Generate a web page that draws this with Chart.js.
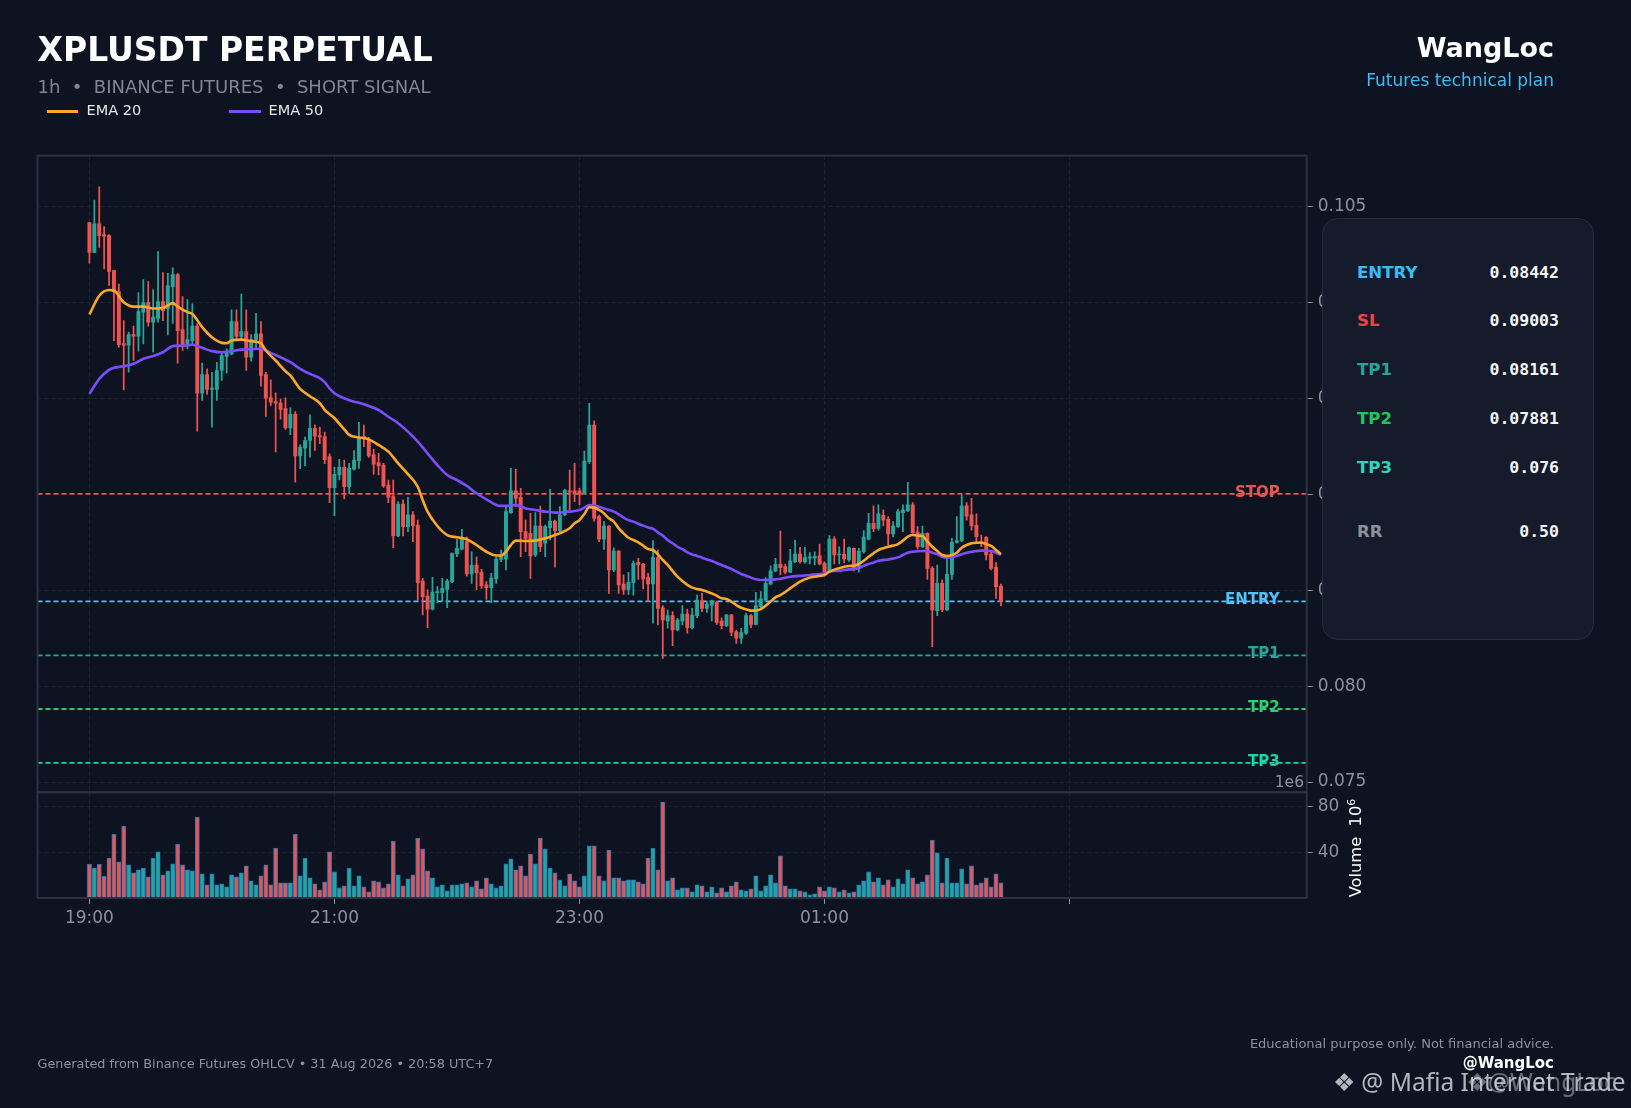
<!DOCTYPE html>
<html><head><meta charset="utf-8">
<script src="https://cdn.jsdelivr.net/npm/chart.js@4.4.1/dist/chart.umd.min.js"></script>
<style>
html,body{margin:0;padding:0;background:#0d1320;}
#wrap{position:relative;width:1631px;height:1108px;overflow:hidden;background:#0d1320;font-family:"DejaVu Sans",sans-serif;}
canvas{position:absolute;left:0;top:0;}
.t{position:absolute;white-space:pre;line-height:1;}
#panel{position:absolute;left:1322px;top:218px;width:272px;height:422px;background:#151b2a;border:1px solid #262d3b;border-radius:16px;box-sizing:border-box;}
.pl{position:absolute;left:34px;font-weight:bold;font-size:16.6px;line-height:1;white-space:pre;}
.pv{position:absolute;right:34px;font-family:"DejaVu Sans Mono",monospace;font-weight:bold;font-size:16.5px;line-height:1;color:#f3f4f6;white-space:pre;}
</style></head><body>
<div id="wrap">
<canvas id="price" width="1631" height="1108" style="width:1631px;height:1108px"></canvas>
<canvas id="vol" width="1631" height="1108" style="width:1631px;height:1108px"></canvas>

<div class="t" style="left:37.5px;top:33px;font-size:33px;font-weight:bold;color:#ffffff;">XPLUSDT PERPETUAL</div>
<div class="t" style="left:37.5px;top:77.5px;font-size:18px;color:#7f8794;">1h  •  BINANCE FUTURES  •  SHORT SIGNAL</div>
<div style="position:absolute;left:47px;top:109.5px;width:31px;height:3px;background:#ffa726;"></div>
<div class="t" style="left:86.5px;top:102.7px;font-size:14.5px;color:#e5e7eb;">EMA 20</div>
<div style="position:absolute;left:229px;top:109.5px;width:32px;height:3px;background:#7c4dff;"></div>
<div class="t" style="left:268.5px;top:102.7px;font-size:14.5px;color:#e5e7eb;">EMA 50</div>

<div class="t" style="right:77px;top:34px;font-size:27px;font-weight:bold;color:#ffffff;">WangLoc</div>
<div class="t" style="right:77px;top:71.5px;font-size:17px;color:#38bdf8;">Futures technical plan</div>

<div class="t" style="right:327px;top:774.5px;font-size:15.5px;color:#8b929e;">1e6</div>
<div class="t" style="left:1355px;top:848px;font-size:16.3px;color:#ffffff;transform:translate(-50%,-50%) rotate(-90deg);">Volume  10<sup style="font-size:11px;vertical-align:6px;">6</sup></div>

<div class="t" style="left:37.5px;top:1058px;font-size:12.8px;color:#8b929e;">Generated from Binance Futures OHLCV • 31 Aug 2026 • 20:58 UTC+7</div>
<div class="t" style="right:77px;top:1037px;font-size:13px;color:#8b929e;">Educational purpose only. Not financial advice.</div>
<div class="t" style="right:77px;top:1055.5px;font-size:15px;font-weight:bold;color:#ffffff;">@WangLoc</div>
<div class="t" style="left:1333px;top:1070.3px;font-family:'Noto Sans',sans-serif;font-size:24.5px;color:rgba(215,218,224,0.82);">❖ @ Mafia Internet Trade</div>
<div class="t" style="left:1466px;top:1070.3px;font-family:'Noto Sans',sans-serif;font-size:24.5px;color:rgba(215,218,224,0.45);">❖@WangLoc</div>

<div id="panel"></div>
</div>

<script>
// ---------------- DATA ----------------
const timeTickIdx = [0, 50, 100, 150, 200];
const timeLabels = ["19:00", "21:00", "23:00", "01:00", ""];
const priceTicks = [0.075, 0.080, 0.085, 0.090, 0.095, 0.100, 0.105];
const volumeTicks = [40, 80];

const opens = [0.10417,0.10262,0.10411,0.10354,0.10349,0.10167,0.10057,0.09786,0.09778,0.09833,
0.09825,0.09950,0.10000,0.09898,0.09918,0.10005,0.09967,0.10083,0.10146,0.09859,
0.09773,0.09802,0.09877,0.09528,0.09625,0.09547,0.09547,0.09646,0.09719,0.09733,
0.09901,0.09823,0.09849,0.09715,0.09807,0.09837,0.09625,0.09505,0.09484,0.09476,
0.09448,0.09346,0.09417,0.09200,0.09241,0.09281,0.09344,0.09307,0.09302,0.09197,
0.09035,0.09101,0.09141,0.09040,0.09132,0.09176,0.09301,0.09287,0.09206,0.09165,
0.09153,0.09049,0.08988,0.08783,0.08950,0.08832,0.08893,0.08840,0.08548,0.08470,
0.08402,0.08488,0.08488,0.08505,0.08545,0.08689,0.08715,0.08754,0.08585,0.08632,
0.08594,0.08528,0.08514,0.08559,0.08661,0.08663,0.08905,0.09018,0.08985,0.08806,
0.08797,0.08684,0.08835,0.08745,0.08827,0.08859,0.08811,0.08893,0.09018,0.09018,
0.09018,0.09005,0.09171,0.09362,0.08884,0.08767,0.08835,0.08606,0.08705,0.08533,
0.08505,0.08540,0.08646,0.08637,0.08566,0.08533,0.08670,0.08409,0.08340,0.08368,
0.08293,0.08340,0.08376,0.08305,0.08368,0.08446,0.08406,0.08423,0.08437,0.08340,
0.08316,0.08371,0.08284,0.08250,0.08276,0.08368,0.08322,0.08415,0.08449,0.08533,
0.08601,0.08635,0.08623,0.08595,0.08649,0.08689,0.08648,0.08667,0.08668,0.08679,
0.08641,0.08597,0.08767,0.08684,0.08689,0.08658,0.08719,0.08614,0.08701,0.08767,
0.08849,0.08823,0.08891,0.08870,0.08794,0.08832,0.08905,0.08915,0.08945,0.08804,
0.08727,0.08797,0.08614,0.08394,0.08536,0.08397,0.08583,0.08750,0.08759,0.08940,
0.08893,0.08839,0.08754,0.08776,0.08689,0.08620,0.08522];

const highs = [0.10417,0.10535,0.10604,0.10396,0.10354,0.10170,0.10097,0.09906,0.09846,0.09877,
0.10052,0.10120,0.10109,0.10068,0.10266,0.10156,0.10153,0.10181,0.10151,0.10031,
0.10016,0.09993,0.09889,0.09684,0.09655,0.09637,0.09689,0.09736,0.09759,0.09962,
0.09962,0.10045,0.09962,0.09833,0.09944,0.09901,0.09637,0.09597,0.09530,0.09498,
0.09504,0.09451,0.09432,0.09259,0.09299,0.09415,0.09363,0.09351,0.09325,0.09211,
0.09141,0.09183,0.09179,0.09162,0.09228,0.09376,0.09362,0.09297,0.09235,0.09214,
0.09162,0.09075,0.09075,0.08962,0.08971,0.08985,0.08910,0.08866,0.08562,0.08502,
0.08568,0.08519,0.08562,0.08557,0.08694,0.08766,0.08818,0.08779,0.08701,0.08675,
0.08609,0.08545,0.08588,0.08672,0.08710,0.08936,0.09136,0.09131,0.09032,0.08866,
0.08901,0.08905,0.08939,0.08840,0.09026,0.08866,0.08936,0.09027,0.09127,0.09162,
0.09032,0.09226,0.09475,0.09383,0.08892,0.08858,0.08837,0.08722,0.08707,0.08580,
0.08594,0.08653,0.08667,0.08641,0.08588,0.08759,0.08710,0.08420,0.08397,0.08389,
0.08354,0.08420,0.08402,0.08406,0.08475,0.08484,0.08444,0.08449,0.08444,0.08357,
0.08375,0.08375,0.08293,0.08302,0.08380,0.08375,0.08489,0.08493,0.08566,0.08628,
0.08667,0.08809,0.08637,0.08714,0.08762,0.08724,0.08724,0.08696,0.08700,0.08741,
0.08649,0.08785,0.08780,0.08727,0.08767,0.08727,0.08722,0.08719,0.08811,0.08901,
0.08940,0.08945,0.08919,0.08884,0.08858,0.08922,0.08945,0.09063,0.08957,0.08832,
0.08835,0.08800,0.08623,0.08632,0.08554,0.08684,0.08771,0.08884,0.08997,0.08957,
0.08979,0.08898,0.08788,0.08780,0.08707,0.08644,0.08533];

const lows = [0.10205,0.10260,0.10288,0.10175,0.10089,0.09802,0.09767,0.09545,0.09637,0.09698,
0.09747,0.09785,0.09877,0.09741,0.09898,0.09906,0.09832,0.09892,0.09684,0.09750,
0.09759,0.09776,0.09330,0.09490,0.09521,0.09351,0.09490,0.09594,0.09632,0.09729,
0.09802,0.09811,0.09646,0.09694,0.09759,0.09564,0.09406,0.09464,0.09221,0.09392,
0.09339,0.09311,0.09064,0.09134,0.09148,0.09194,0.09229,0.09264,0.09160,0.08957,
0.08889,0.09075,0.08976,0.09005,0.09127,0.09136,0.09249,0.09193,0.09106,0.09101,
0.09036,0.08957,0.08722,0.08779,0.08783,0.08806,0.08754,0.08449,0.08371,0.08305,
0.08397,0.08435,0.08441,0.08409,0.08540,0.08675,0.08710,0.08574,0.08536,0.08502,
0.08510,0.08453,0.08435,0.08536,0.08649,0.08606,0.08901,0.08936,0.08675,0.08701,
0.08562,0.08675,0.08701,0.08675,0.08762,0.08620,0.08806,0.08889,0.08919,0.08962,
0.08945,0.09002,0.09162,0.08861,0.08754,0.08713,0.08484,0.08597,0.08484,0.08479,
0.08479,0.08475,0.08557,0.08507,0.08441,0.08328,0.08319,0.08145,0.08302,0.08211,
0.08288,0.08319,0.08276,0.08298,0.08357,0.08389,0.08385,0.08340,0.08322,0.08298,
0.08310,0.08263,0.08223,0.08223,0.08270,0.08305,0.08319,0.08406,0.08444,0.08528,
0.08597,0.08580,0.08585,0.08592,0.08644,0.08641,0.08641,0.08637,0.08632,0.08632,
0.08592,0.08594,0.08637,0.08637,0.08644,0.08651,0.08601,0.08595,0.08693,0.08762,
0.08806,0.08814,0.08835,0.08736,0.08780,0.08828,0.08806,0.08910,0.08797,0.08715,
0.08722,0.08557,0.08206,0.08368,0.08388,0.08394,0.08557,0.08745,0.08754,0.08866,
0.08814,0.08754,0.08727,0.08658,0.08606,0.08458,0.08420];

const closes = [0.10262,0.10411,0.10349,0.10346,0.10163,0.10057,0.09781,0.09778,0.09833,0.09825,
0.09953,0.10000,0.09898,0.09924,0.10005,0.09958,0.10089,0.10146,0.09854,0.09773,
0.09807,0.09877,0.09528,0.09625,0.09547,0.09554,0.09646,0.09724,0.09736,0.09901,
0.09823,0.09849,0.09715,0.09807,0.09837,0.09620,0.09502,0.09481,0.09476,0.09443,
0.09346,0.09417,0.09200,0.09247,0.09281,0.09344,0.09304,0.09299,0.09181,0.09035,
0.09105,0.09141,0.09040,0.09136,0.09179,0.09292,0.09292,0.09200,0.09158,0.09148,
0.09044,0.08985,0.08783,0.08950,0.08832,0.08893,0.08837,0.08540,0.08467,0.08402,
0.08491,0.08493,0.08510,0.08548,0.08693,0.08719,0.08766,0.08585,0.08630,0.08592,
0.08524,0.08514,0.08564,0.08663,0.08684,0.08910,0.09018,0.08979,0.08806,0.08771,
0.08679,0.08835,0.08727,0.08832,0.08861,0.08811,0.08893,0.09023,0.09011,0.09004,
0.09000,0.09174,0.09362,0.08875,0.08767,0.08835,0.08606,0.08705,0.08528,0.08502,
0.08541,0.08641,0.08632,0.08559,0.08533,0.08670,0.08406,0.08345,0.08368,0.08293,
0.08345,0.08376,0.08305,0.08371,0.08449,0.08406,0.08427,0.08441,0.08333,0.08316,
0.08371,0.08281,0.08250,0.08279,0.08368,0.08322,0.08420,0.08455,0.08536,0.08601,
0.08635,0.08618,0.08595,0.08653,0.08689,0.08649,0.08670,0.08674,0.08677,0.08637,
0.08597,0.08767,0.08684,0.08689,0.08663,0.08722,0.08614,0.08705,0.08778,0.08849,
0.08821,0.08898,0.08866,0.08794,0.08835,0.08910,0.08919,0.08945,0.08800,0.08727,
0.08797,0.08614,0.08397,0.08536,0.08397,0.08583,0.08750,0.08759,0.08940,0.08887,
0.08835,0.08780,0.08745,0.08684,0.08614,0.08519,0.08441];

// volume in millions (axis offset 1e6)
const volumes = [29.4,26.2,29.4,19.0,34.9,55.8,31.5,62.8,28.9,21.9,
24.5,26.2,18.4,34.9,40.2,20.2,23.6,29.7,47.1,28.9,
24.5,23.6,70.6,21.0,11.5,21.0,11.5,12.3,9.7,20.2,
18.4,21.9,28.0,14.9,11.5,19.3,28.9,11.5,43.6,13.2,
13.2,13.2,55.8,19.3,34.9,17.5,12.3,7.1,14.1,40.2,
22.8,8.8,10.6,26.2,10.6,19.3,9.7,5.4,14.9,14.1,
8.8,12.3,49.7,20.2,10.6,16.7,20.2,52.3,42.8,23.6,
17.5,9.7,11.5,6.2,11.5,11.5,12.3,13.2,9.7,14.9,
8.0,17.5,12.3,8.8,10.6,29.7,34.1,24.5,28.0,19.3,
38.4,29.7,52.3,42.8,26.2,21.9,15.8,10.6,21.0,14.9,
9.7,19.3,45.4,45.4,19.3,14.9,41.9,17.5,17.5,14.9,
15.8,15.8,14.1,12.3,34.9,43.6,24.5,83.7,14.9,17.5,
7.1,8.8,8.8,5.4,11.5,10.6,5.4,9.7,4.5,8.8,
5.4,10.6,14.1,7.1,6.2,8.0,19.3,6.2,10.6,20.2,
13.2,36.7,10.6,8.0,8.0,6.2,5.4,2.8,3.6,9.7,
6.2,9.7,8.8,5.4,7.1,4.5,5.4,11.5,14.9,22.8,
14.1,17.5,11.5,15.8,9.7,16.7,12.3,24.5,17.5,12.3,
14.1,20.2,50.6,39.3,13.2,34.9,13.2,13.2,25.4,12.3,
28.0,11.5,13.2,17.5,9.7,21.0,13.2];

const ema20Idx = [0,2,4,5,7,9,11,13,15,17,18,20,21,23,25,27,28,29,31,33,35,36,38,40,41,43,45,47,48,50,52,53,55,57,59,61,63,65,67,68,69,71,73,75,77,79,81,83,84,85,86,87,89,91,93,95,96,98,99,100,101,102,103,104,105,106,107,108,109,110,111,112,113,114,115,116,117,118,119,120,121,122,123,124,125,126,127,128,129,130,131,132,133,134,135,136,137,138,139,140,141,143,145,147,149,150,151,153,155,156,157,158,159,160,161,163,165,166,167,168,169,170,171,172,173,174,175,176,177,178,179,180,181,182,183,184,185,186];
const ema20Val = [0.09938,0.10036,0.10066,0.10063,0.10002,0.09979,0.09979,0.09969,0.09972,0.09997,0.09979,0.09950,0.09941,0.09872,0.09819,0.09790,0.09788,0.09802,0.09807,0.09799,0.09788,0.09750,0.09698,0.09642,0.09620,0.09550,0.09512,0.09476,0.09441,0.09397,0.09339,0.09310,0.09297,0.09287,0.09258,0.09223,0.09162,0.09106,0.09040,0.08971,0.08910,0.08835,0.08788,0.08776,0.08766,0.08736,0.08701,0.08681,0.08681,0.08701,0.08736,0.08759,0.08757,0.08759,0.08771,0.08788,0.08797,0.08823,0.08849,0.08866,0.08898,0.08933,0.08931,0.08919,0.08901,0.08875,0.08858,0.08823,0.08797,0.08774,0.08762,0.08750,0.08733,0.08715,0.08710,0.08687,0.08658,0.08632,0.08601,0.08571,0.08548,0.08528,0.08514,0.08507,0.08502,0.08493,0.08484,0.08472,0.08458,0.08455,0.08441,0.08423,0.08409,0.08401,0.08394,0.08395,0.08402,0.08420,0.08441,0.08463,0.08475,0.08510,0.08545,0.08566,0.08575,0.08580,0.08597,0.08615,0.08627,0.08628,0.08637,0.08654,0.08675,0.08693,0.08710,0.08727,0.08741,0.08759,0.08780,0.08788,0.08785,0.08783,0.08754,0.08727,0.08705,0.08684,0.08679,0.08684,0.08696,0.08722,0.08736,0.08745,0.08748,0.08748,0.08741,0.08731,0.08710,0.08688];

const ema50Idx = [0,2,4,5,7,9,11,13,15,17,19,21,23,25,27,29,31,33,35,37,39,41,43,45,47,48,49,50,52,54,55,57,59,61,63,65,67,69,71,73,75,77,79,81,83,84,86,87,89,91,93,95,96,97,98,99,100,101,102,103,104,105,106,107,108,109,110,111,112,113,114,115,116,117,118,119,120,121,122,123,124,125,126,127,128,129,130,131,132,133,134,135,136,137,138,139,140,141,143,145,147,149,150,151,153,155,157,158,159,160,161,163,165,166,167,168,170,171,172,173,174,175,176,177,178,179,180,182,183,184,185,186];
const ema50Val = [0.09524,0.09602,0.09649,0.09660,0.09668,0.09681,0.09707,0.09721,0.09741,0.09773,0.09776,0.09780,0.09764,0.09747,0.09741,0.09747,0.09755,0.09757,0.09759,0.09738,0.09715,0.09689,0.09655,0.09628,0.09606,0.09585,0.09553,0.09527,0.09501,0.09483,0.09478,0.09461,0.09440,0.09405,0.09371,0.09327,0.09275,0.09214,0.09153,0.09101,0.09075,0.09044,0.09006,0.08974,0.08945,0.08940,0.08941,0.08945,0.08927,0.08919,0.08910,0.08905,0.08905,0.08910,0.08910,0.08913,0.08919,0.08931,0.08945,0.08941,0.08936,0.08927,0.08919,0.08910,0.08896,0.08879,0.08866,0.08858,0.08847,0.08837,0.08828,0.08820,0.08802,0.08785,0.08762,0.08745,0.08727,0.08714,0.08698,0.08687,0.08679,0.08670,0.08661,0.08653,0.08642,0.08632,0.08621,0.08611,0.08597,0.08585,0.08576,0.08566,0.08557,0.08554,0.08554,0.08555,0.08557,0.08560,0.08571,0.08575,0.08580,0.08585,0.08588,0.08597,0.08602,0.08609,0.08615,0.08627,0.08637,0.08644,0.08654,0.08661,0.08672,0.08684,0.08696,0.08701,0.08705,0.08705,0.08696,0.08689,0.08675,0.08670,0.08672,0.08679,0.08688,0.08696,0.08701,0.08707,0.08707,0.08705,0.08696,0.08684];

const levelNames = ["STOP", "ENTRY", "TP1", "TP2", "TP3"];
const levelValues = [0.09003, 0.08442, 0.08161, 0.07881, 0.076];
const levelColors = ["#ef5350", "#4fc3f7", "#26a69a", "#2ecc71", "#1dd6a6"];

const panelLabels = ["ENTRY", "SL", "TP1", "TP2", "TP3"];
const panelValues = [0.08442, 0.09003, 0.08161, 0.07881, 0.076];
const panelColors = ["#38bdf8", "#ef4444", "#26a69a", "#22c55e", "#2dd4bf"];
const rrLabel = "RR";
const rrValue = "0.50";

// ---------------- STYLE ----------------
const UP = "#26a69a", DOWN = "#ef5350";
const GRID = "#1d2431", TICKC = "#8b929e", FRAME = "#2a3140";
const FONT = "'DejaVu Sans', sans-serif";
const X_MIN = -10.6, X_MAX = 248.4;
const P_MIN = 0.074467, P_MAX = 0.107659;
const V_MIN = 0, V_MAX = 92.2;

const candleColors = closes.map((c, i) => c >= opens[i] ? UP : DOWN);

// panel
(function(){
  const panel = document.getElementById('panel');
  const tops = [45.6, 94.3, 143.3, 192.3, 241];
  panelLabels.forEach((lab, i) => {
    const l = document.createElement('div'); l.className = 'pl';
    l.style.top = tops[i] + 'px'; l.style.color = panelColors[i]; l.textContent = lab;
    const v = document.createElement('div'); v.className = 'pv';
    v.style.top = tops[i] + 'px'; v.textContent = String(panelValues[i]);
    panel.appendChild(l); panel.appendChild(v);
  });
  const l = document.createElement('div'); l.className = 'pl';
  l.style.top = '305px'; l.style.color = '#8b929e'; l.textContent = rrLabel;
  const v = document.createElement('div'); v.className = 'pv';
  v.style.top = '305px'; v.textContent = rrValue;
  panel.appendChild(l); panel.appendChild(v);
})();

const framePlugin = {
  id: 'frame',
  afterDraw(chart) {
    const a = chart.chartArea, ctx = chart.ctx;
    ctx.save();
    ctx.strokeStyle = FRAME; ctx.lineWidth = 2;
    ctx.strokeRect(a.left, a.top, a.right - a.left, a.bottom - a.top);
    ctx.restore();
  }
};

const levelLabelPlugin = {
  id: 'levelLabels',
  afterDatasetsDraw(chart) {
    const ctx = chart.ctx, a = chart.chartArea, ys = chart.scales.y;
    ctx.save();
    ctx.font = "bold 15px " + FONT;
    ctx.textAlign = 'right'; ctx.textBaseline = 'middle';
    levelNames.forEach((n, i) => {
      ctx.fillStyle = levelColors[i];
      ctx.fillText(n, a.right - 27, ys.getPixelForValue(levelValues[i]) - 1);
    });
    ctx.restore();
  }
};

const levelDatasets = levelValues.map((v, i) => ({
  type: 'line', data: [{x: X_MIN, y: v}, {x: X_MAX, y: v}],
  borderColor: levelColors[i], borderWidth: 1.8, borderDash: [5, 3],
  pointRadius: 0, order: 4
}));

new Chart(document.getElementById('price'), {
  type: 'bar',
  data: {
    datasets: [
      { type: 'line', label: 'EMA 20', data: ema20Idx.map((x, i) => ({x, y: ema20Val[i]})),
        borderColor: '#ffa726', borderWidth: 2.6, pointRadius: 0, cubicInterpolationMode: 'monotone', order: 0 },
      { type: 'line', label: 'EMA 50', data: ema50Idx.map((x, i) => ({x, y: ema50Val[i]})),
        borderColor: '#7c4dff', borderWidth: 2.6, pointRadius: 0, cubicInterpolationMode: 'monotone', order: 0 },
      { label: 'body', data: opens.map((o, i) => ({x: i, y: [o, closes[i]]})),
        backgroundColor: candleColors, barThickness: 3.3, minBarLength: 1, grouped: false, order: 2 },
      { label: 'wick', data: lows.map((l, i) => ({x: i, y: [l, highs[i]]})),
        backgroundColor: candleColors, barThickness: 1.1, grouped: false, order: 3 },
      ...levelDatasets
    ]
  },
  options: {
    responsive: false, animation: false,
    layout: { padding: { left: 37.5, top: 155.7, right: 0, bottom: 315.7 } },
    plugins: { legend: { display: false }, tooltip: { enabled: false } },
    scales: {
      x: {
        type: 'linear', min: X_MIN, max: X_MAX, offset: false,
        afterBuildTicks: s => { s.ticks = timeTickIdx.map(v => ({value: v})); },
        afterFit: s => { s.height = 0; },
        ticks: { display: false },
        grid: { color: GRID, lineWidth: 1, drawTicks: false, offset: false },
        border: { display: false, dash: [4, 3] }
      },
      y: {
        position: 'right', min: P_MIN, max: P_MAX,
        afterBuildTicks: s => { s.ticks = priceTicks.map(v => ({value: v})); },
        afterFit: s => { s.width = 1631 - 1306.7; },
        ticks: { color: TICKC, font: { family: FONT, size: 17 }, padding: 5, callback: v => Number(v).toFixed(3) },
        grid: { color: GRID, lineWidth: 1, tickLength: 6, tickColor: TICKC, tickWidth: 1, tickBorderDash: [] },
        border: { display: false, dash: [4, 3] }
      }
    }
  },
  plugins: [framePlugin, levelLabelPlugin]
});

new Chart(document.getElementById('vol'), {
  type: 'bar',
  data: {
    datasets: [
      { label: 'Volume', data: volumes.map((v, i) => ({x: i, y: v})),
        backgroundColor: candleColors, borderColor: '#2574b8', borderWidth: 1, borderSkipped: false,
        barThickness: 4.3, grouped: false }
    ]
  },
  options: {
    responsive: false, animation: false,
    layout: { padding: { left: 37.5, top: 792.3, right: 0, bottom: 170 } },
    plugins: { legend: { display: false }, tooltip: { enabled: false } },
    scales: {
      x: {
        type: 'linear', min: X_MIN, max: X_MAX, offset: false,
        afterBuildTicks: s => { s.ticks = timeTickIdx.map(v => ({value: v})); },
        afterFit: s => { s.height = 40; },
        ticks: { color: TICKC, font: { family: FONT, size: 17 }, padding: 4, maxRotation: 0, autoSkip: false,
                 callback: v => { const k = timeTickIdx.indexOf(v); return k >= 0 ? timeLabels[k] : ''; } },
        grid: { color: GRID, lineWidth: 1, tickLength: 6, tickColor: TICKC, tickWidth: 1, tickBorderDash: [], offset: false },
        border: { display: false, dash: [4, 3] }
      },
      y: {
        position: 'right', min: V_MIN, max: V_MAX,
        afterBuildTicks: s => { s.ticks = volumeTicks.map(v => ({value: v})); },
        afterFit: s => { s.width = 1631 - 1306.7; },
        ticks: { color: TICKC, font: { family: FONT, size: 17 }, padding: 5 },
        grid: { color: GRID, lineWidth: 1, tickLength: 6, tickColor: TICKC, tickWidth: 1, tickBorderDash: [] },
        border: { display: false, dash: [4, 3] }
      }
    }
  },
  plugins: [framePlugin]
});
</script>
</body></html>
